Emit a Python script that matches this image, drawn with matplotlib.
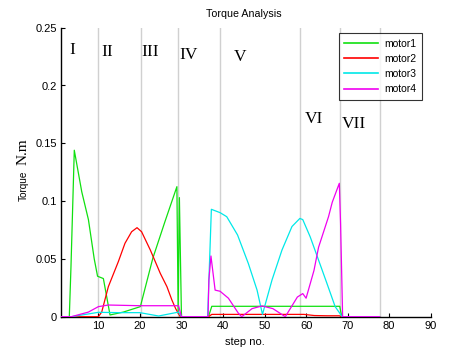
import matplotlib
matplotlib.use("Agg")
import matplotlib.pyplot as plt

# ---- data ----
m1_x = [1, 3, 3.4, 4.2, 6, 7.6, 9, 9.8, 11.2, 12.8, 16, 20.1, 23.1, 26, 28.9, 29.2, 29.5, 30.0, 36.5, 37.3, 68.1, 68.6, 77.7]
m1_y = [0, 0, 0.043, 0.144, 0.108, 0.084, 0.050, 0.035, 0.033, 0.0015, 0.004, 0.0087, 0.0505, 0.082, 0.1125, 0.003, 0.103, 0, 0, 0.009, 0.009, 0, 0]

m2_x = [1, 10, 10.8, 12.4, 14.8, 16.4, 18, 19.3, 20.4, 22.5, 24.9, 26.5, 27.7, 28.6, 29.7, 36.5, 37.3, 59.5, 62, 65, 68, 68.6, 77.7]
m2_y = [0, 0, 0.004, 0.026, 0.0476, 0.0635, 0.0735, 0.077, 0.0735, 0.0577, 0.0375, 0.026, 0.0144, 0.007, 0, 0, 0.002, 0.002, 0.001, 0.0008, 0.0008, 0, 0]

m3_x = [1, 3.5, 10, 15, 20, 24.5, 29.3, 30, 36.3, 37.2, 39.3, 40.9, 43.5, 46.1, 48.2, 49.5, 51.8, 54.2, 56.6, 58.5, 59.2, 61, 63, 65, 67, 68.7, 77.7]
m3_y = [0, 0, 0.0038, 0.0035, 0.0035, 0.0006, 0.004, 0, 0, 0.0929, 0.090, 0.0865, 0.0707, 0.046, 0.023, 0.002, 0.0318, 0.0577, 0.078, 0.085, 0.084, 0.069, 0.049, 0.029, 0.0087, 0, 0]

m4_x = [1, 3.5, 7.6, 10, 12.4, 20, 29.3, 30, 36.4, 36.6, 37.1, 38.1, 39.3, 41.3, 43.7, 44.5, 47, 49.4, 52, 55, 57.9, 59.2, 60, 61.9, 63, 65.4, 66.3, 68, 68.3, 68.8, 77.7]
m4_y = [0, 0, 0.004, 0.0087, 0.0101, 0.0095, 0.0095, 0, 0, 0.032, 0.0525, 0.023, 0.022, 0.016, 0.003, 0, 0.007, 0.0093, 0.007, 0, 0.017, 0.020, 0.016, 0.040, 0.060, 0.0865, 0.099, 0.1154, 0.081, 0, 0]

series_names = ["motor1", "motor2", "motor3", "motor4"]
series_colors = ["#10e010", "#ff0000", "#00e8e8", "#f000f0"]

phase_bounds = [10, 20.2, 29.1, 39.3, 58.6, 68.1, 77.7]
phase_labels = ["I", "II", "III", "IV", "V", "VI", "VII"]
phase_label_x = [3.6, 12.1, 22.4, 31.8, 44.2, 62.0, 71.6]
phase_label_y = [0.231, 0.229, 0.229, 0.226, 0.2245, 0.171, 0.1665]

x_ticks = [10, 20, 30, 40, 50, 60, 70, 80, 90]
y_ticks = [0, 0.05, 0.1, 0.15, 0.2, 0.25]
y_tick_labels = ["0", "0.05", "0.1", "0.15", "0.2", "0.25"]

# ---- figure ----
fig = plt.figure(figsize=(4.74, 3.55), dpi=100)
ax = fig.add_axes([61 / 474, 1 - 316.7 / 355, (430.7 - 61) / 474, 289 / 355])

for xb in phase_bounds:
    ax.axvline(xb, color="#d0d0d0", lw=1.0, zorder=1)

xs = [m1_x, m2_x, m3_x, m4_x]
ys = [m1_y, m2_y, m3_y, m4_y]
for x, y, name, c in zip(xs, ys, series_names, series_colors):
    ax.plot(x, y, color=c, lw=0.9, label=name, zorder=3)

for lab, lx, ly in zip(phase_labels, phase_label_x, phase_label_y):
    ax.text(lx, ly, lab, family="Liberation Serif", fontsize=12.5,
            ha="center", va="center", color="black")

ax.set_xlim(1, 90)
ax.set_ylim(0, 0.25)
ax.set_xticks(x_ticks)
ax.set_yticks(y_ticks)
ax.set_yticklabels(y_tick_labels)
for lbl in ax.get_xticklabels() + ax.get_yticklabels():
    lbl.set_family("Liberation Sans")
    lbl.set_fontsize(8)
ax.tick_params(direction="in", length=3, width=0.8, pad=3)
ax.spines["top"].set_visible(False)
ax.spines["right"].set_visible(False)
ax.spines["left"].set_linewidth(1.0)
ax.spines["bottom"].set_linewidth(1.0)

leg = ax.legend(loc="upper right", bbox_to_anchor=(0.976, 0.982),
                prop={"family": "Liberation Sans", "size": 7.5},
                frameon=True, fancybox=False, handlelength=3.2,
                borderaxespad=0, labelspacing=0.5, handletextpad=0.6,
                borderpad=0.55)
leg.get_frame().set_edgecolor("black")
leg.get_frame().set_linewidth(0.8)
for ln in leg.get_lines():
    ln.set_linewidth(1.2)

fig.text(244 / 474, 1 - 14 / 355, "Torque Analysis", family="Liberation Sans",
         fontsize=7.7, ha="center", va="center")
fig.text(245 / 474, 1 - 341.7 / 355, "step no.", family="Liberation Sans",
         fontsize=8, ha="center", va="center")
fig.text(24 / 474, 1 - 186 / 355, "Torque", family="Liberation Sans",
         fontsize=7.2, rotation=90, ha="center", va="center")
fig.text(23.5 / 474, 1 - 151.7 / 355, "N.m", family="Liberation Serif",
         fontsize=11, rotation=90, ha="center", va="center")

fig.savefig("out.png", dpi=100)
